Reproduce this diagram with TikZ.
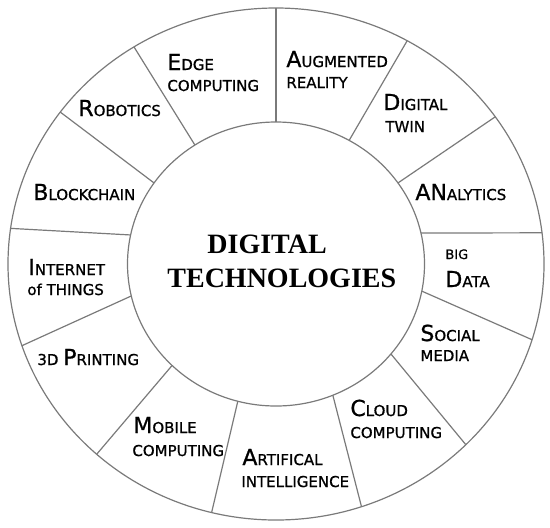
\documentclass[tikz,border=0pt]{standalone}
\usepackage{fontspec}
\setmainfont[FakeBold=0.9]{DejaVu Sans}
\newfontfamily\titlefont{Liberation Serif}
\newcommand\LgC[1]{{\fontsize{11}{13}\selectfont #1}}
\newcommand\SmC[1]{{\fontsize{7.5}{9}\selectfont #1}}
\newcommand\TnC[1]{{\fontsize{6.5}{8}\selectfont #1}}
\definecolor{linegray}{HTML}{7A7A7A}
\tikzset{
  ring/.style={draw=linegray, line width=0.6pt},
  divider/.style={draw=linegray, line width=0.6pt},
  lbl/.style={anchor=base west, inner sep=0pt, text=black},
  title/.style={anchor=base west, inner sep=0pt, font=\titlefont\bfseries\fontsize{14}{16}\selectfont}
}
\begin{document}
\begin{tikzpicture}[x=0.5pt,y=0.5pt]
\useasboundingbox (0,0) rectangle (550,527);
\coordinate (c) at (276,263);
% rings
\draw[ring] (c) ellipse [x radius=268, y radius=256];
\draw[ring] (c) ellipse [x radius=148.5, y radius=142];
% dividers (inner angle, outer angle)
\foreach \ai/\ao in {90/90, 60.5/60.7, 34.8/35.1, 12.6/7, -11/-17.2, -39.3/-44.9, -67.5/-71.4, -104.9/-103.9, -134.4/-132, -167/-161.4, 168.2/172, 145.2/143.6, 123.1/122}{
  \draw[divider] ([shift={(\ai:148.5 and 142)}]c) -- ([shift={(\ao:268 and 256)}]c);
}
% centre title
\node[title] (t1) at (207,274) {DIGITAL};
\node[title] (t2) at (167,240) {TECHNOLOGIES};
% labels
\node[lbl] (edge1) at (167,457) {\LgC{E}\SmC{DGE}};
\node[lbl] (edge2) at (167,436) {\SmC{COMPUTING}};
\node[lbl] (rob) at (78,411) {\LgC{R}\SmC{OBOTICS}};
\node[lbl] (block) at (33,327) {\LgC{B}\SmC{LOCKCHAIN}};
\node[lbl] (aug1) at (286,460) {\LgC{A}\SmC{UGMENTED}};
\node[lbl] (aug2) at (286,439) {\SmC{REALITY}};
\node[lbl] (dig1) at (383,417) {\LgC{D}\SmC{IGITAL}};
\node[lbl] (dig2) at (385,395) {\SmC{TWIN}};
\node[lbl] (ana) at (415,327) {\LgC{AN}\SmC{ALYTICS}};
\node[lbl] (big) at (445,268) {\TnC{BIG}};
\node[lbl] (data) at (445,240) {\LgC{D}\SmC{ATA}};
\node[lbl] (soc1) at (420,186) {\LgC{S}\SmC{OCIAL}};
\node[lbl] (soc2) at (420,166) {\SmC{MEDIA}};
\node[lbl] (cloud1) at (350,111) {\LgC{C}\SmC{LOUD}};
\node[lbl] (cloud2) at (350,89) {\SmC{COMPUTING}};
\node[lbl] (art1) at (242,62) {\LgC{A}\SmC{RTIFICAL}};
\node[lbl] (art2) at (241,40) {\SmC{INTELLIGENCE}};
\node[lbl] (mob1) at (133,94) {\LgC{M}\SmC{OBILE}};
\node[lbl] (mob2) at (132,71) {\SmC{COMPUTING}};
\node[lbl] (print) at (37,162) {\SmC{3D }\LgC{P}\SmC{RINTING}};
\node[lbl] (int1) at (28,252) {\LgC{I}\SmC{NTERNET}};
\node[lbl] (int2) at (27,232) {\SmC{of THINGS}};
\end{tikzpicture}
\end{document}
